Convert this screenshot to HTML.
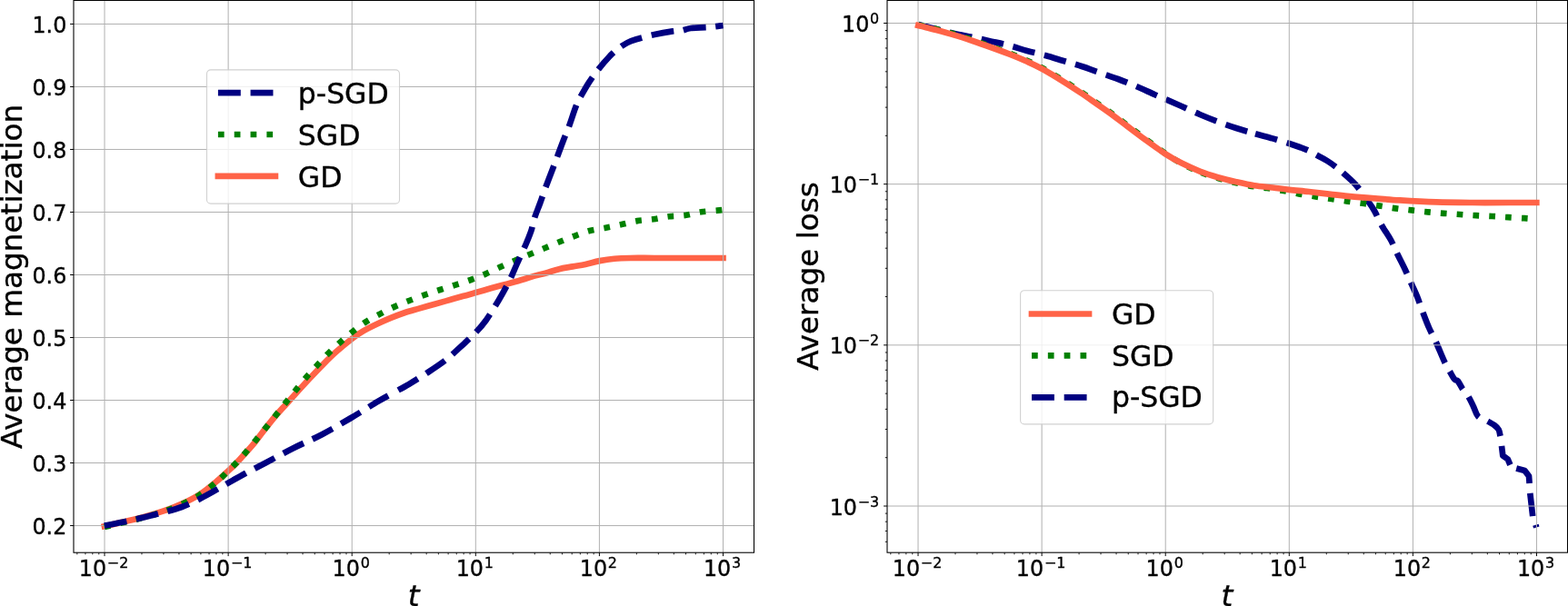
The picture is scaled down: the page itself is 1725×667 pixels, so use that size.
<!DOCTYPE html>
<html lang="en">
<head>
<meta charset="utf-8">
<title>Average magnetization and average loss vs t</title>
<style>
html,body{margin:0;padding:0;background:#fff;}
body{width:1725px;height:667px;overflow:hidden;}
svg{display:block;}
</style>
</head>
<body>
<svg width="1725" height="667" viewBox="0 0 1725 667" font-family='"DejaVu Sans", "Liberation Sans", sans-serif' fill="#000">
<style>text{stroke:#000;stroke-width:0.36px;stroke-linejoin:round;}</style>
<rect width="1725" height="667" fill="#fff"/>
<path d="M114.90,579.20C119.08,578.23 132.48,575.20 140.00,573.40C147.52,571.60 153.33,570.23 160.00,568.40C166.67,566.57 173.33,564.70 180.00,562.40C186.67,560.10 193.33,557.67 200.00,554.60C206.67,551.53 213.33,548.37 220.00,544.00C226.67,539.63 234.83,532.67 240.00,528.40C245.17,524.13 247.67,521.50 251.00,518.40C254.33,515.30 256.83,513.07 260.00,509.80C263.17,506.53 266.67,502.53 270.00,498.80C273.33,495.07 276.33,491.92 280.00,487.40C283.67,482.88 288.00,476.78 292.00,471.68C296.00,466.58 300.17,461.28 304.00,456.78C307.83,452.28 311.33,448.71 315.00,444.67C318.67,440.63 321.83,437.10 326.00,432.53C330.17,427.96 335.17,422.40 340.00,417.23C344.83,412.06 350.00,406.55 355.00,401.53C360.00,396.51 364.58,391.92 370.00,387.10C375.42,382.28 382.50,376.41 387.50,372.60C392.50,368.79 395.42,366.89 400.00,364.22C404.58,361.55 410.00,358.95 415.00,356.57C420.00,354.19 425.00,352.00 430.00,349.95C435.00,347.90 440.00,345.94 445.00,344.26C450.00,342.58 454.17,341.51 460.00,339.85C465.83,338.19 474.17,335.94 480.00,334.30C485.83,332.66 490.00,331.45 495.00,330.03C500.00,328.61 505.25,327.09 510.00,325.77C514.75,324.45 518.50,323.50 523.50,322.09C528.50,320.68 534.75,318.78 540.00,317.30C545.25,315.82 550.00,314.55 555.00,313.20C560.00,311.85 565.00,310.63 570.00,309.20C575.00,307.77 580.00,306.02 585.00,304.60C590.00,303.18 595.00,302.11 600.00,300.70C605.00,299.29 610.00,297.39 615.00,296.17C620.00,294.95 625.17,294.27 630.00,293.40C634.83,292.52 639.07,291.97 644.00,290.92C648.93,289.88 654.27,288.15 659.60,287.13C664.93,286.11 670.37,285.30 676.00,284.78C681.63,284.26 686.07,284.13 693.40,284.00C700.73,283.87 708.90,284.00 720.00,284.00C731.10,284.00 747.42,284.00 760.00,284.00C772.58,284.00 789.58,284.00 795.50,284.00" stroke="#ff6347" stroke-width="6.70" stroke-linejoin="round" stroke-linecap="square" fill="none"/>
<path d="M115.02,0.45V608.22M251.11,0.45V608.22M387.20,0.45V608.22M523.29,0.45V608.22M659.38,0.45V608.22M795.47,0.45V608.22M81.00,578.55H829.50M81.00,509.53H829.50M81.00,440.52H829.50M81.00,371.50H829.50M81.00,302.49H829.50M81.00,233.48H829.50M81.00,164.46H829.50M81.00,95.44H829.50M81.00,26.43H829.50" stroke="#b0b0b0" stroke-width="1.00" fill="none"/>
<g fill="none" stroke-width="6.70" stroke-linejoin="round">
<path d="M114.90,580.00C119.08,579.00 132.48,575.83 140.00,574.00C147.52,572.17 153.33,570.83 160.00,569.00C166.67,567.17 173.33,565.33 180.00,563.00C186.67,560.67 193.33,558.08 200.00,555.00C206.67,551.92 213.33,548.85 220.00,544.50C226.67,540.15 234.83,533.25 240.00,528.90" stroke="#008000" stroke-dasharray="6.73 11.10" stroke-dashoffset="0.00"/>
<path d="M240.00,528.90C245.17,524.55 247.67,521.65 251.00,518.40C254.33,515.15 256.83,512.73 260.00,509.40C263.17,506.07 266.33,502.67 270.00,498.40C273.67,494.13 278.17,488.51 282.00,483.80C285.83,479.09 289.33,474.69 293.00,470.12C296.67,465.55 300.33,461.02 304.00,456.40C307.67,451.78 311.33,447.03 315.00,442.40C318.67,437.77 322.27,433.20 326.00,428.60C329.73,424.00 333.50,419.30 337.40,414.80C341.30,410.30 345.37,405.97 349.40,401.60C353.43,397.23 357.40,392.80 361.60,388.60C365.80,384.40 370.20,380.33 374.60,376.40C379.00,372.47 383.37,368.67 388.00,365.00C392.63,361.33 397.40,357.63 402.40,354.40C407.40,351.17 412.73,348.40 418.00,345.60C423.27,342.80 428.67,340.03 434.00,337.60C439.33,335.17 444.50,333.17 450.00,331.00C455.50,328.83 461.33,326.60 467.00,324.60C472.67,322.60 478.33,320.83 484.00,319.00C489.67,317.17 495.33,315.43 501.00,313.60C506.67,311.77 512.50,310.00 518.00,308.00C523.50,306.00 528.67,303.93 534.00,301.60C539.33,299.27 544.67,296.43 550.00,294.00C555.33,291.57 560.57,289.33 566.00,287.00C571.43,284.67 577.03,282.33 582.60,280.00C588.17,277.67 593.83,275.33 599.40,273.00C604.97,270.67 610.57,268.20 616.00,266.00C621.43,263.80 626.55,261.80 632.00,259.80C637.45,257.80 642.98,255.52 648.70,254.00C654.42,252.48 660.45,251.87 666.30,250.70C672.15,249.53 678.02,248.27 683.80,247.00C689.58,245.73 695.18,244.05 701.00,243.10C706.82,242.15 712.87,242.10 718.70,241.30C724.53,240.50 730.15,239.02 736.00,238.30C741.85,237.58 747.90,237.83 753.80,237.00C759.70,236.17 765.50,234.18 771.40,233.30C777.30,232.42 785.18,232.08 789.20,231.70C793.22,231.32 794.45,231.12 795.50,231.00" stroke="#008000" stroke-dasharray="6.73 11.10" stroke-dashoffset="13.41"/>
<path d="M114.90,578.60C119.08,577.77 132.48,575.20 140.00,573.60C147.52,572.00 153.33,570.60 160.00,569.00C166.67,567.40 173.33,565.83 180.00,564.00C186.67,562.17 193.33,560.50 200.00,558.00C206.67,555.50 213.33,552.33 220.00,549.00C226.67,545.67 234.83,540.90 240.00,538.00C245.17,535.10 246.00,534.43 251.00,531.60C256.00,528.77 263.30,524.60 270.00,521.00C276.70,517.40 282.48,514.58 291.20,510.00C299.92,505.42 311.80,498.80 322.30,493.50C332.80,488.20 343.70,483.70 354.20,478.20C364.70,472.70 375.05,466.54 385.30,460.50C395.55,454.46 407.92,446.58 415.70,441.96C423.48,437.34 426.28,435.99 432.00,432.79" stroke="#000080" stroke-dasharray="24.90 10.77" stroke-dashoffset="0.00"/>
<path d="M432.00,432.79C437.72,429.59 443.67,426.50 450.00,422.76C456.33,419.02 463.33,414.71 470.00,410.33C476.67,405.95 484.00,401.15 490.00,396.50C496.00,391.85 500.43,387.51 506.00,382.40C511.57,377.29 518.62,370.81 523.40,365.82C528.18,360.83 530.45,358.46 534.70,352.48C538.95,346.50 544.53,337.37 548.90,329.96C553.27,322.55 557.57,314.66 560.90,308.00C564.23,301.34 565.90,296.67 568.90,290.00C571.90,283.33 576.27,274.17 578.90,268.00C581.53,261.83 583.18,257.67 584.70,253.00C586.22,248.33 586.45,244.83 588.00,240.00C589.55,235.17 592.00,229.50 594.00,224.00C596.00,218.50 597.67,213.33 600.00,207.00C602.33,200.67 605.67,192.17 608.00,186.00C610.33,179.83 612.00,175.33 614.00,170.00C616.00,164.67 618.00,159.17 620.00,154.00C622.00,148.83 623.67,145.33 626.00,139.00C628.33,132.67 631.67,121.80 634.00,116.00C636.33,110.20 637.67,108.46 640.00,104.23C642.33,100.00 645.00,95.20 648.00,90.61C651.00,86.02 654.33,81.35 658.00,76.70C661.67,72.05 666.33,66.53 670.00,62.70C673.67,58.87 676.67,56.30 680.00,53.70C683.33,51.10 686.67,48.83 690.00,47.10C693.33,45.37 695.00,44.82 700.00,43.30C705.00,41.78 713.33,39.48 720.00,38.00C726.67,36.52 735.00,35.13 740.00,34.40C745.00,33.67 746.67,34.17 750.00,33.60C753.33,33.03 755.00,31.60 760.00,31.00C765.00,30.40 774.08,30.50 780.00,30.00C785.92,29.50 792.92,28.33 795.50,28.00" stroke="#000080" stroke-dasharray="24.90 10.77" stroke-dashoffset="28.43"/>
</g>
<path d="M115.02,608.22v3.9M251.11,608.22v3.9M387.20,608.22v3.9M523.29,608.22v3.9M659.38,608.22v3.9M795.47,608.22v3.9M81.00,578.55h-3.9M81.00,509.53h-3.9M81.00,440.52h-3.9M81.00,371.50h-3.9M81.00,302.49h-3.9M81.00,233.48h-3.9M81.00,164.46h-3.9M81.00,95.44h-3.9M81.00,26.43h-3.9" stroke="#000" stroke-width="1.00" fill="none"/>
<path d="M84.83,608.22v2.2M93.94,608.22v2.2M101.83,608.22v2.2M108.79,608.22v2.2M155.99,608.22v2.2M179.95,608.22v2.2M196.95,608.22v2.2M210.14,608.22v2.2M220.92,608.22v2.2M230.03,608.22v2.2M237.92,608.22v2.2M244.88,608.22v2.2M292.08,608.22v2.2M316.04,608.22v2.2M333.04,608.22v2.2M346.23,608.22v2.2M357.01,608.22v2.2M366.12,608.22v2.2M374.01,608.22v2.2M380.97,608.22v2.2M428.17,608.22v2.2M452.13,608.22v2.2M469.13,608.22v2.2M482.32,608.22v2.2M493.10,608.22v2.2M502.21,608.22v2.2M510.10,608.22v2.2M517.06,608.22v2.2M564.26,608.22v2.2M588.22,608.22v2.2M605.22,608.22v2.2M618.41,608.22v2.2M629.19,608.22v2.2M638.30,608.22v2.2M646.19,608.22v2.2M653.15,608.22v2.2M700.35,608.22v2.2M724.31,608.22v2.2M741.31,608.22v2.2M754.50,608.22v2.2M765.28,608.22v2.2M774.39,608.22v2.2M782.28,608.22v2.2M789.24,608.22v2.2" stroke="#000" stroke-width="0.90" fill="none"/>
<rect x="81.00" y="0.45" width="748.50" height="607.77" fill="none" stroke="#000" stroke-width="1.08"/>
<text transform="translate(73.30,588.25) scale(1,1.012)" text-anchor="end" font-size="23.80">0.2</text>
<text transform="translate(73.30,519.24) scale(1,1.012)" text-anchor="end" font-size="23.80">0.3</text>
<text transform="translate(73.30,450.22) scale(1,1.012)" text-anchor="end" font-size="23.80">0.4</text>
<text transform="translate(73.30,381.20) scale(1,1.012)" text-anchor="end" font-size="23.80">0.5</text>
<text transform="translate(73.30,312.19) scale(1,1.012)" text-anchor="end" font-size="23.80">0.6</text>
<text transform="translate(73.30,243.18) scale(1,1.012)" text-anchor="end" font-size="23.80">0.7</text>
<text transform="translate(73.30,174.16) scale(1,1.012)" text-anchor="end" font-size="23.80">0.8</text>
<text transform="translate(73.30,105.14) scale(1,1.012)" text-anchor="end" font-size="23.80">0.9</text>
<text transform="translate(73.30,36.13) scale(1,1.012)" text-anchor="end" font-size="23.80">1.0</text>
<text transform="translate(114.02,633.90) scale(1,1.012)" text-anchor="middle" font-size="23.80">10<tspan dx="0.8" dy="-8.90" font-size="15.90">−2</tspan></text>
<text transform="translate(250.11,633.90) scale(1,1.012)" text-anchor="middle" font-size="23.80">10<tspan dx="0.8" dy="-8.90" font-size="15.90">−1</tspan></text>
<text transform="translate(386.20,633.90) scale(1,1.012)" text-anchor="middle" font-size="23.80">10<tspan dx="0.8" dy="-8.90" font-size="15.90">0</tspan></text>
<text transform="translate(522.29,633.90) scale(1,1.012)" text-anchor="middle" font-size="23.80">10<tspan dx="0.8" dy="-8.90" font-size="15.90">1</tspan></text>
<text transform="translate(658.38,633.90) scale(1,1.012)" text-anchor="middle" font-size="23.80">10<tspan dx="0.8" dy="-8.90" font-size="15.90">2</tspan></text>
<text transform="translate(794.47,633.90) scale(1,1.012)" text-anchor="middle" font-size="23.80">10<tspan dx="0.8" dy="-8.90" font-size="15.90">3</tspan></text>
<text x="455.1" y="666.8" text-anchor="middle" font-size="32.65" font-style="italic">t</text>
<text transform="translate(24.0,304.5) rotate(-90)" text-anchor="middle" font-size="32.65">Average magnetization</text>
<g fill="none" stroke-width="6.70" stroke-linejoin="round">
<path d="M1010.20,27.00C1013.50,27.85 1023.37,30.43 1030.00,32.10C1036.63,33.77 1043.33,35.52 1050.00,37.00C1056.67,38.48 1063.33,39.60 1070.00,41.00C1076.67,42.40 1083.33,43.90 1090.00,45.40C1096.67,46.90 1103.33,48.23 1110.00,50.00C1116.67,51.77 1123.33,54.17 1130.00,56.00C1136.67,57.83 1143.33,59.17 1150.00,61.00C1156.67,62.83 1163.33,65.00 1170.00,67.00C1176.67,69.00 1183.33,70.83 1190.00,73.00C1196.67,75.17 1203.33,77.67 1210.00,80.00C1216.67,82.33 1223.33,84.50 1230.00,87.00C1236.67,89.50 1243.33,92.17 1250.00,95.00C1256.67,97.83 1264.60,101.62 1270.00,104.00C1275.40,106.38 1277.40,107.13 1282.40,109.30C1287.40,111.47 1293.73,114.22 1300.00,117.00C1306.27,119.78 1313.33,123.17 1320.00,126.00C1326.67,128.83 1333.33,131.50 1340.00,134.00C1346.67,136.50 1353.33,138.83 1360.00,141.00C1366.67,143.17 1373.33,145.10 1380.00,147.00" stroke="#000080" stroke-dasharray="24.90 10.77" stroke-dashoffset="0.00"/>
<path d="M1380.00,147.00C1386.67,148.90 1393.60,150.57 1400.00,152.40C1406.40,154.23 1413.40,156.40 1418.40,158.00C1423.40,159.60 1426.40,160.67 1430.00,162.00C1433.60,163.33 1436.67,164.42 1440.00,166.00C1443.33,167.58 1446.67,169.67 1450.00,171.50C1453.33,173.33 1456.67,174.92 1460.00,177.00C1463.33,179.08 1466.67,181.42 1470.00,184.00C1473.33,186.58 1476.33,189.17 1480.00,192.50C1483.67,195.83 1488.00,199.42 1492.00,204.00C1496.00,208.58 1500.67,215.33 1504.00,220.00C1507.33,224.67 1509.33,227.33 1512.00,232.00C1514.67,236.67 1517.00,242.67 1520.00,248.00C1523.00,253.33 1527.08,258.67 1530.00,264.00C1532.92,269.33 1534.88,274.58 1537.50,280.00C1540.12,285.42 1543.23,291.27 1545.70,296.50C1548.17,301.73 1550.08,306.43 1552.30,311.40C1554.52,316.37 1556.78,320.80 1559.00,326.30C1561.22,331.80 1563.40,338.62 1565.60,344.40C1567.80,350.18 1569.80,355.57 1572.20,361.00C1574.60,366.43 1577.20,370.85 1580.00,377.00C1582.80,383.15 1586.52,392.62 1589.00,397.90C1591.48,403.18 1593.02,405.40 1594.90,408.70C1596.78,412.00 1598.80,415.90 1600.30,417.70C1601.80,419.50 1602.50,417.85 1603.90,419.50C1605.30,421.15 1606.82,424.82 1608.70,427.60C1610.58,430.38 1613.15,432.90 1615.20,436.20C1617.25,439.50 1619.20,443.73 1621.00,447.40C1622.80,451.07 1623.60,455.62 1626.00,458.20C1628.40,460.78 1632.40,461.27 1635.40,462.90C1638.40,464.53 1641.77,466.32 1644.00,468.00C1646.23,469.68 1647.72,471.00 1648.80,473.00C1649.88,475.00 1650.22,478.83 1650.50,480.00" stroke="#000080" stroke-dasharray="24.90 10.77" stroke-dashoffset="34.61"/>
<path d="M1652.00,490.80L1653.30,501.50L1658.70,505.40L1661.40,511.60M1668.20,515.60L1677.50,518.10L1682.00,524.00L1682.60,532.10M1683.30,542.90L1686.20,568.10M1689.40,577.70L1690.30,580.50" stroke="#000080"/>
</g>
<path d="M1010.02,0.45V608.18M1146.11,0.45V608.18M1282.20,0.45V608.18M1418.29,0.45V608.18M1554.38,0.45V608.18M1690.47,0.45V608.18M976.00,25.50H1724.50M976.00,202.67H1724.50M976.00,379.84H1724.50M976.00,557.01H1724.50" stroke="#b0b0b0" stroke-width="1.00" fill="none"/>
<g fill="none" stroke-width="6.70" stroke-linejoin="round">
<path d="M1010.20,27.50C1013.50,28.25 1023.37,30.32 1030.00,32.00C1036.63,33.68 1043.33,35.60 1050.00,37.60C1056.67,39.60 1063.33,41.77 1070.00,44.00C1076.67,46.23 1083.33,48.59 1090.00,51.00C1096.67,53.41 1103.33,55.86 1110.00,58.49C1116.67,61.12 1123.93,64.08 1130.00,66.80C1136.07,69.52 1139.73,71.13 1146.40,74.80C1153.07,78.47 1162.73,84.30 1170.00,88.80C1177.27,93.30 1185.00,98.47 1190.00,101.80C1195.00,105.13 1195.00,105.30 1200.00,108.80C1205.00,112.30 1213.33,117.97 1220.00,122.80C1226.67,127.63 1233.33,132.80 1240.00,137.80C1246.67,142.80 1252.93,147.59 1260.00,152.80C1267.07,158.01 1275.73,164.55 1282.40,169.07C1289.07,173.59 1293.73,176.53 1300.00,179.90C1306.27,183.27 1313.33,186.60 1320.00,189.30" stroke="#008000" stroke-dasharray="6.73 11.10" stroke-dashoffset="0.50"/>
<path d="M1320.00,189.30C1326.67,192.00 1333.33,194.10 1340.00,196.10C1346.67,198.10 1353.33,199.77 1360.00,201.30C1366.67,202.83 1374.33,204.35 1380.00,205.30C1385.67,206.25 1388.67,206.22 1394.00,207.00C1399.33,207.78 1406.00,208.90 1412.00,210.00C1418.00,211.10 1424.10,212.53 1430.00,213.60C1435.90,214.67 1441.57,215.50 1447.40,216.40C1453.23,217.30 1459.13,218.13 1465.00,219.00C1470.87,219.87 1476.67,220.77 1482.60,221.60C1488.53,222.43 1494.70,223.17 1500.60,224.00C1506.50,224.83 1512.20,225.70 1518.00,226.60C1523.80,227.50 1529.57,228.60 1535.40,229.40C1541.23,230.20 1547.13,230.73 1553.00,231.40C1558.87,232.07 1564.70,232.83 1570.60,233.40C1576.50,233.97 1582.50,234.37 1588.40,234.80C1594.30,235.23 1600.13,235.60 1606.00,236.00C1611.87,236.40 1617.67,236.87 1623.60,237.20C1629.53,237.53 1635.67,237.67 1641.60,238.00C1647.53,238.33 1653.30,238.83 1659.20,239.20C1665.10,239.57 1671.82,239.90 1677.00,240.20C1682.18,240.50 1688.08,240.87 1690.30,241.00" stroke="#008000" stroke-dasharray="6.73 11.10" stroke-dashoffset="16.07"/>
<path d="M1010.20,28.00C1013.50,28.83 1023.37,31.23 1030.00,33.00C1036.63,34.77 1043.33,36.60 1050.00,38.60C1056.67,40.60 1063.33,42.77 1070.00,45.00C1076.67,47.23 1083.33,49.59 1090.00,52.00C1096.67,54.41 1103.33,56.86 1110.00,59.49C1116.67,62.12 1123.93,65.08 1130.00,67.80C1136.07,70.52 1139.73,72.13 1146.40,75.80C1153.07,79.47 1162.73,85.30 1170.00,89.80C1177.27,94.30 1185.00,99.47 1190.00,102.80C1195.00,106.13 1195.00,106.30 1200.00,109.80C1205.00,113.30 1213.33,118.97 1220.00,123.80C1226.67,128.63 1233.33,133.80 1240.00,138.80C1246.67,143.80 1252.93,148.67 1260.00,153.80C1267.07,158.93 1275.73,165.27 1282.40,169.57C1289.07,173.87 1293.73,176.43 1300.00,179.60C1306.27,182.77 1313.33,186.00 1320.00,188.60C1326.67,191.20 1333.33,193.27 1340.00,195.20C1346.67,197.13 1353.33,198.68 1360.00,200.20C1366.67,201.72 1373.33,203.25 1380.00,204.30C1386.67,205.35 1393.60,205.75 1400.00,206.50C1406.40,207.25 1411.73,208.05 1418.40,208.80C1425.07,209.55 1433.07,210.23 1440.00,211.00C1446.93,211.77 1453.33,212.63 1460.00,213.40C1466.67,214.17 1473.33,214.93 1480.00,215.60C1486.67,216.27 1490.00,216.60 1500.00,217.40C1510.00,218.20 1526.67,219.57 1540.00,220.40C1553.33,221.23 1566.67,221.97 1580.00,222.40C1593.33,222.83 1606.67,222.90 1620.00,223.00C1633.33,223.10 1648.28,223.00 1660.00,223.00C1671.72,223.00 1685.25,223.00 1690.30,223.00" stroke="#ff6347" stroke-linecap="square"/>
</g>
<path d="M1010.02,608.18v3.9M1146.11,608.18v3.9M1282.20,608.18v3.9M1418.29,608.18v3.9M1554.38,608.18v3.9M1690.47,608.18v3.9M976.00,25.50h-3.9M976.00,202.67h-3.9M976.00,379.84h-3.9M976.00,557.01h-3.9" stroke="#000" stroke-width="1.00" fill="none"/>
<path d="M979.83,608.18v2.2M988.94,608.18v2.2M996.83,608.18v2.2M1003.79,608.18v2.2M1050.99,608.18v2.2M1074.95,608.18v2.2M1091.95,608.18v2.2M1105.14,608.18v2.2M1115.92,608.18v2.2M1125.03,608.18v2.2M1132.92,608.18v2.2M1139.88,608.18v2.2M1187.08,608.18v2.2M1211.04,608.18v2.2M1228.04,608.18v2.2M1241.23,608.18v2.2M1252.01,608.18v2.2M1261.12,608.18v2.2M1269.01,608.18v2.2M1275.97,608.18v2.2M1323.17,608.18v2.2M1347.13,608.18v2.2M1364.13,608.18v2.2M1377.32,608.18v2.2M1388.10,608.18v2.2M1397.21,608.18v2.2M1405.10,608.18v2.2M1412.06,608.18v2.2M1459.26,608.18v2.2M1483.22,608.18v2.2M1500.22,608.18v2.2M1513.41,608.18v2.2M1524.19,608.18v2.2M1533.30,608.18v2.2M1541.19,608.18v2.2M1548.15,608.18v2.2M1595.35,608.18v2.2M1619.31,608.18v2.2M1636.31,608.18v2.2M1649.50,608.18v2.2M1660.28,608.18v2.2M1669.39,608.18v2.2M1677.28,608.18v2.2M1684.24,608.18v2.2M976.00,149.34h-2.2M976.00,118.14h-2.2M976.00,96.00h-2.2M976.00,78.83h-2.2M976.00,64.80h-2.2M976.00,52.94h-2.2M976.00,42.67h-2.2M976.00,33.61h-2.2M976.00,326.51h-2.2M976.00,295.31h-2.2M976.00,273.17h-2.2M976.00,256.00h-2.2M976.00,241.97h-2.2M976.00,230.11h-2.2M976.00,219.84h-2.2M976.00,210.78h-2.2M976.00,503.68h-2.2M976.00,472.48h-2.2M976.00,450.34h-2.2M976.00,433.17h-2.2M976.00,419.14h-2.2M976.00,407.28h-2.2M976.00,397.01h-2.2M976.00,387.95h-2.2M976.00,596.31h-2.2M976.00,584.45h-2.2M976.00,574.18h-2.2M976.00,565.12h-2.2" stroke="#000" stroke-width="0.90" fill="none"/>
<rect x="976.00" y="0.45" width="748.50" height="607.73" fill="none" stroke="#000" stroke-width="1.08"/>
<text transform="translate(967.20,35.00) scale(1,1.012)" text-anchor="end" font-size="23.80">10<tspan dx="0.8" dy="-8.90" font-size="15.90">0</tspan></text>
<text transform="translate(967.20,212.17) scale(1,1.012)" text-anchor="end" font-size="23.80">10<tspan dx="0.8" dy="-8.90" font-size="15.90">−1</tspan></text>
<text transform="translate(967.20,389.34) scale(1,1.012)" text-anchor="end" font-size="23.80">10<tspan dx="0.8" dy="-8.90" font-size="15.90">−2</tspan></text>
<text transform="translate(967.20,566.51) scale(1,1.012)" text-anchor="end" font-size="23.80">10<tspan dx="0.8" dy="-8.90" font-size="15.90">−3</tspan></text>
<text transform="translate(1009.02,633.90) scale(1,1.012)" text-anchor="middle" font-size="23.80">10<tspan dx="0.8" dy="-8.90" font-size="15.90">−2</tspan></text>
<text transform="translate(1145.11,633.90) scale(1,1.012)" text-anchor="middle" font-size="23.80">10<tspan dx="0.8" dy="-8.90" font-size="15.90">−1</tspan></text>
<text transform="translate(1281.20,633.90) scale(1,1.012)" text-anchor="middle" font-size="23.80">10<tspan dx="0.8" dy="-8.90" font-size="15.90">0</tspan></text>
<text transform="translate(1417.29,633.90) scale(1,1.012)" text-anchor="middle" font-size="23.80">10<tspan dx="0.8" dy="-8.90" font-size="15.90">1</tspan></text>
<text transform="translate(1553.38,633.90) scale(1,1.012)" text-anchor="middle" font-size="23.80">10<tspan dx="0.8" dy="-8.90" font-size="15.90">2</tspan></text>
<text transform="translate(1689.47,633.90) scale(1,1.012)" text-anchor="middle" font-size="23.80">10<tspan dx="0.8" dy="-8.90" font-size="15.90">3</tspan></text>
<text x="1350" y="666.8" text-anchor="middle" font-size="32.65" font-style="italic">t</text>
<text transform="translate(900.3,304) rotate(-90)" text-anchor="middle" font-size="32.65">Average loss</text>
<rect x="227.50" y="76.90" width="212.00" height="147.20" rx="4.4" ry="4.4" fill="#fff" fill-opacity="0.8" stroke="#ccc" stroke-opacity="0.9" stroke-width="1.1"/>
<path d="M239.90,102.10H302.90" stroke="#000080" stroke-width="6.70" stroke-dasharray="24.90 10.77" fill="none"/>
<text transform="translate(327.80,113.50) scale(1,1.02)" font-size="31.50">p-SGD</text>
<path d="M239.90,148.00H302.90" stroke="#008000" stroke-width="6.70" stroke-dasharray="6.73 11.10" fill="none"/>
<text x="327.80" y="159.80" font-size="31.50">SGD</text>
<path d="M239.90,193.90H302.90" stroke="#ff6347" stroke-width="6.70" stroke-linecap="square" fill="none"/>
<text x="327.80" y="205.70" font-size="31.50">GD</text>
<rect x="1122.60" y="319.70" width="212.00" height="147.20" rx="4.4" ry="4.4" fill="#fff" fill-opacity="0.8" stroke="#ccc" stroke-opacity="0.9" stroke-width="1.1"/>
<path d="M1135.00,345.50H1198.00" stroke="#ff6347" stroke-width="6.70" stroke-linecap="square" fill="none"/>
<text x="1222.90" y="356.60" font-size="31.50">GD</text>
<path d="M1135.00,391.40H1198.00" stroke="#008000" stroke-width="6.70" stroke-dasharray="6.73 11.10" fill="none"/>
<text x="1222.90" y="402.50" font-size="31.50">SGD</text>
<path d="M1135.00,437.30H1198.00" stroke="#000080" stroke-width="6.70" stroke-dasharray="24.90 10.77" fill="none"/>
<text transform="translate(1222.90,448.00) scale(1,1.02)" font-size="31.50">p-SGD</text>
</svg>
</body>
</html>
